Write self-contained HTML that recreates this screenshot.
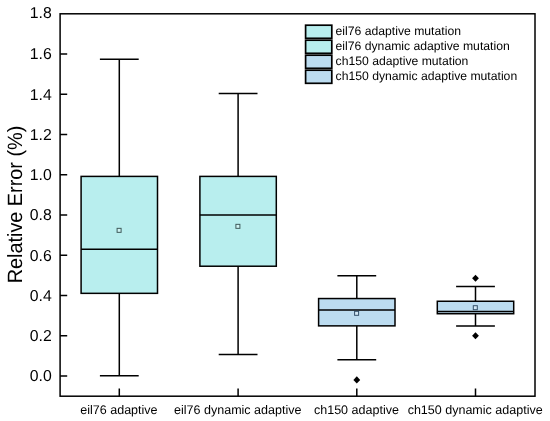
<!DOCTYPE html>
<html lang="en"><head><meta charset="utf-8"><title>Relative Error box plot</title>
<style>html,body{margin:0;padding:0;background:#fff}body{width:550px;height:421px;overflow:hidden}</style></head>
<body>
<svg xmlns="http://www.w3.org/2000/svg" text-rendering="geometricPrecision" width="550" height="421" viewBox="0 0 550 421" style="display:block;font-family:'Liberation Sans',Arial,sans-serif" fill="#000">
<rect width="550" height="421" fill="#fff"/>
<g stroke="#000" stroke-width="1.5" fill="none">
<path d="M119.3 59.28V176.4M119.3 293.34V375.71M99.9 59.28H138.7M99.9 375.71H138.7"/>
<rect x="81.1" y="176.4" width="76.4" height="116.94" fill="#b8eeee"/>
<path d="M81.1 249.13H157.5"/>
</g>
<rect x="117.1" y="228.34" width="4" height="4" fill="#d0f5f5" stroke="#3f5a5a" stroke-width="1"/>
<g stroke="#000" stroke-width="1.5" fill="none">
<path d="M238.1 93.45V176.4M238.1 266.22V354.6M218.7 93.45H257.5M218.7 354.6H257.5"/>
<rect x="199.9" y="176.4" width="76.4" height="89.82" fill="#b8eeee"/>
<path d="M199.9 214.99H276.3"/>
</g>
<rect x="235.9" y="224.34" width="4" height="4" fill="#d0f5f5" stroke="#3f5a5a" stroke-width="1"/>
<g stroke="#000" stroke-width="1.5" fill="none">
<path d="M356.8 275.85V298.55M356.8 325.87V359.63M337.4 275.85H376.2M337.4 359.63H376.2"/>
<rect x="318.6" y="298.55" width="76.4" height="27.32" fill="#bcdcf0"/>
<path d="M318.6 310.0H395.0"/>
</g>
<rect x="354.6" y="311.31" width="4" height="4" fill="#d2e8f6" stroke="#33506a" stroke-width="1"/>
<path d="M356.8 376.31L360.2 379.91L356.8 383.51L353.4 379.91Z" fill="#000"/>
<g stroke="#000" stroke-width="1.5" fill="none">
<path d="M475.5 286.5V301.26M475.5 313.72V326.07M456.1 286.5H494.9M456.1 326.07H494.9"/>
<rect x="437.3" y="301.26" width="76.4" height="12.46" fill="#bcdcf0"/>
<path d="M437.3 311.51H513.7"/>
</g>
<rect x="473.3" y="305.7" width="4" height="4" fill="#d2e8f6" stroke="#33506a" stroke-width="1"/>
<path d="M475.5 274.67L478.9 278.27L475.5 281.87L472.1 278.27Z" fill="#000"/>
<path d="M475.5 332.13L478.9 335.73L475.5 339.33L472.1 335.73Z" fill="#000"/>
<rect x="60.1" y="13.8" width="474.9" height="382.4" fill="none" stroke="#000" stroke-width="1.5"/>
<path d="M60.1 375.95H67.2M60.1 335.71H67.2M60.1 295.47H67.2M60.1 255.23H67.2M60.1 214.99H67.2M60.1 174.75H67.2M60.1 134.51H67.2M60.1 94.27H67.2M60.1 54.03H67.2M119.3 396.2V388.6M238.1 396.2V388.6M356.8 396.2V388.6M475.5 396.2V388.6" stroke="#000" stroke-width="1.5" fill="none"/>
<g font-size="15.8" text-anchor="end">
<text x="51.8" y="381.25">0.0</text>
<text x="51.8" y="341.01">0.2</text>
<text x="51.8" y="300.77">0.4</text>
<text x="51.8" y="260.53">0.6</text>
<text x="51.8" y="220.29">0.8</text>
<text x="51.8" y="180.05">1.0</text>
<text x="51.8" y="139.81">1.2</text>
<text x="51.8" y="99.57">1.4</text>
<text x="51.8" y="59.33">1.6</text>
<text x="51.8" y="18.29">1.8</text>
</g>
<g font-size="12.52" text-anchor="middle">
<text x="118.95" y="413.9">eil76 adaptive</text>
<text x="237.75" y="413.9">eil76 dynamic adaptive</text>
<text x="356.45" y="413.9">ch150 adaptive</text>
<text x="475.15" y="413.9">ch150 dynamic adaptive</text>
</g>
<text font-size="19.85" text-anchor="middle" transform="translate(21.8 204.5) rotate(-90) scale(1 1.04)">Relative Error (%)</text>
<g font-size="12.2">
<rect x="305.6" y="25.2" width="26.2" height="13.1" fill="#b8eeee" stroke="#000" stroke-width="1.7"/>
<text x="335.6" y="35.4">eil76 adaptive mutation</text>
<rect x="305.6" y="40.2" width="26.2" height="13.1" fill="#b8eeee" stroke="#000" stroke-width="1.7"/>
<text x="335.6" y="50.37">eil76 dynamic adaptive mutation</text>
<rect x="305.6" y="55.2" width="26.2" height="13.1" fill="#bcdcf0" stroke="#000" stroke-width="1.7"/>
<text x="335.6" y="65.34">ch150 adaptive mutation</text>
<rect x="305.6" y="70.2" width="26.2" height="13.1" fill="#bcdcf0" stroke="#000" stroke-width="1.7"/>
<text x="335.6" y="80.31">ch150 dynamic adaptive mutation</text>
</g>
</svg>
</body></html>
